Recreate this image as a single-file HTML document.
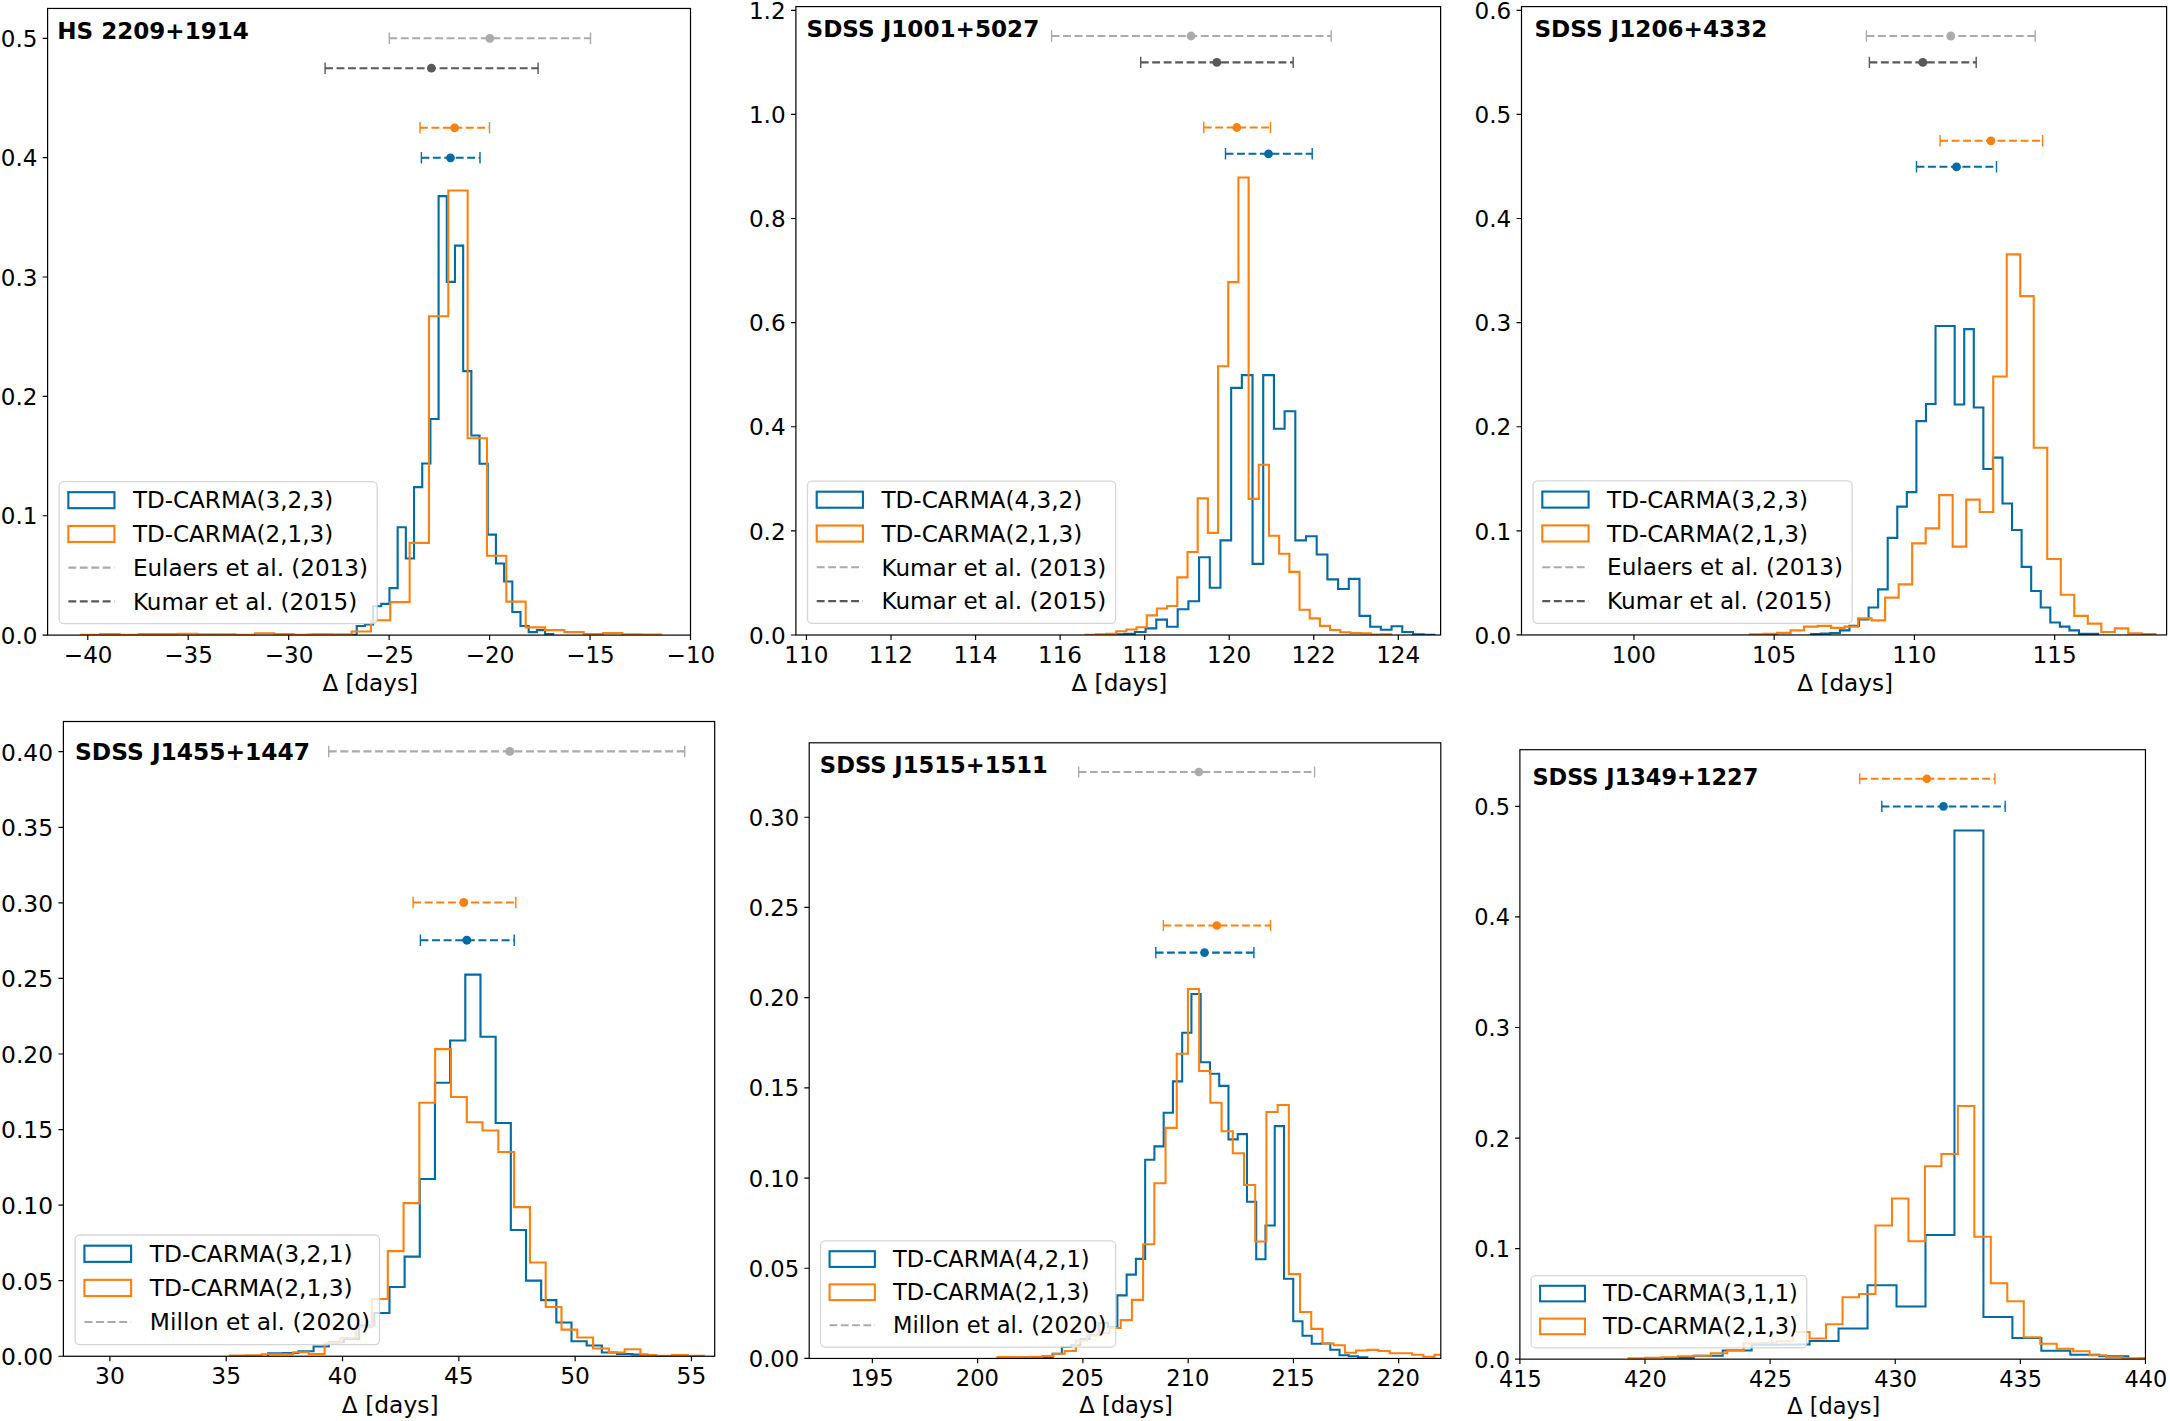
<!DOCTYPE html>
<html lang="en"><head><meta charset="utf-8"><title>TD-CARMA time delay posteriors</title>
<style>html,body{margin:0;padding:0;background:#fff}body{width:2170px;height:1421px;overflow:hidden}svg{display:block}</style></head>
<body>
<svg width="2170" height="1421" viewBox="0 0 2170 1421" font-family="'DejaVu Sans','Liberation Sans',sans-serif" fill="#000">
<rect width="2170" height="1421" fill="#fff"/>
<g font-size="23.05">
<clipPath id="c0"><rect x="47.6" y="8.45" width="642.9" height="626.65"/></clipPath>
<g clip-path="url(#c0)" fill="none" stroke-width="2.1" stroke-linejoin="miter">
<path d="M307.56 635.1 L307.56 634.8 L315.75 634.8 L315.75 634.8 L323.94 634.8 L323.94 634.8 L332.13 634.8 L332.13 634.8 L340.32 634.8 L340.32 634.8 L348.51 634.8 L348.51 634.8 L356.7 634.8 L356.7 626.05 L364.89 626.05 L364.89 624.45 L373.08 624.45 L373.08 606.25 L381.27 606.25 L381.27 603.85 L389.46 603.85 L389.46 588.15 L397.65 588.15 L397.65 527.25 L405.84 527.25 L405.84 558.55 L414.03 558.55 L414.03 487.15 L422.22 487.15 L422.22 463.45 L430.41 463.45 L430.41 419 L438.6 419 L438.6 196.1 L446.79 196.1 L446.79 281.9 L454.98 281.9 L454.98 245.6 L463.17 245.6 L463.17 371.1 L471.36 371.1 L471.36 435.45 L479.55 435.45 L479.55 463.8 L487.74 463.8 L487.74 534.65 L495.93 534.65 L495.93 563.45 L504.12 563.45 L504.12 581.55 L512.31 581.55 L512.31 612.05 L520.5 612.05 L520.5 626.05 L528.69 626.05 L528.69 632.15 L536.88 632.15 L536.88 630.15 L545.07 630.15 L545.07 633.95 L553.26 633.95 L553.26 635.1" stroke="#006BA4"/>
<path d="M80.84 635.1 L80.84 634.7 L100.18 634.7 L100.18 634 L119.52 634 L119.52 634.7 L138.86 634.7 L138.86 634 L158.2 634 L158.2 634 L177.54 634 L177.54 633.8 L196.88 633.8 L196.88 634.3 L216.22 634.3 L216.22 634.3 L235.56 634.3 L235.56 634.7 L254.9 634.7 L254.9 633.4 L274.24 633.4 L274.24 634 L293.58 634 L293.58 634.7 L312.92 634.7 L312.92 634.2 L332.26 634.2 L332.26 634.6 L351.6 634.6 L351.6 631.45 L370.94 631.45 L370.94 620.25 L390.28 620.25 L390.28 602.15 L409.62 602.15 L409.62 542.85 L428.96 542.85 L428.96 316.3 L448.3 316.3 L448.3 190.5 L467.64 190.5 L467.64 438.25 L486.98 438.25 L486.98 555.75 L506.32 555.75 L506.32 601.65 L525.66 601.65 L525.66 627.35 L545 627.35 L545 630.15 L564.34 630.15 L564.34 632.15 L583.68 632.15 L583.68 633.95 L603.02 633.95 L603.02 633.15 L622.36 633.15 L622.36 634.25 L641.7 634.25 L641.7 634.55 L661.04 634.55 L661.04 635.1" stroke="#FF800E"/>
</g>
<g stroke="#ABABAB" fill="#ABABAB">
<line x1="389.3" y1="38.3" x2="590.5" y2="38.3" stroke-width="2.1" stroke-dasharray="7.9 3.55"/>
<path d="M389.3 32.6v11.4M590.5 32.6v11.4" stroke-width="1.4" fill="none"/>
<circle cx="489.8" cy="38.3" r="4.4" stroke="none"/>
</g>
<g stroke="#595959" fill="#595959">
<line x1="325.1" y1="68.2" x2="538.1" y2="68.2" stroke-width="2.1" stroke-dasharray="7.9 3.55"/>
<path d="M325.1 62.5v11.4M538.1 62.5v11.4" stroke-width="1.4" fill="none"/>
<circle cx="431.4" cy="68.2" r="4.4" stroke="none"/>
</g>
<g stroke="#FF800E" fill="#FF800E">
<line x1="420" y1="127.8" x2="489.5" y2="127.8" stroke-width="2.1" stroke-dasharray="7.9 3.55"/>
<path d="M420 122.1v11.4M489.5 122.1v11.4" stroke-width="1.4" fill="none"/>
<circle cx="454.6" cy="127.8" r="4.4" stroke="none"/>
</g>
<g stroke="#006BA4" fill="#006BA4">
<line x1="421.4" y1="157.8" x2="480" y2="157.8" stroke-width="2.1" stroke-dasharray="7.9 3.55"/>
<path d="M421.4 152.1v11.4M480 152.1v11.4" stroke-width="1.4" fill="none"/>
<circle cx="450.5" cy="157.8" r="4.4" stroke="none"/>
</g>
<path d="M87.78 635.1v4.95M188.23 635.1v4.95M288.69 635.1v4.95M389.14 635.1v4.95M489.59 635.1v4.95M590.05 635.1v4.95M690.5 635.1v4.95M47.6 635.1h-4.95M47.6 515.74h-4.95M47.6 396.38h-4.95M47.6 277.02h-4.95M47.6 157.66h-4.95M47.6 38.3h-4.95" stroke="#000" stroke-width="1.2" fill="none"/>
<rect x="47.6" y="8.45" width="642.9" height="626.65" fill="none" stroke="#000" stroke-width="1.2"/>
<text x="88.18" y="662.55" text-anchor="middle">−40</text>
<text x="188.63" y="662.55" text-anchor="middle">−35</text>
<text x="289.09" y="662.55" text-anchor="middle">−30</text>
<text x="389.54" y="662.55" text-anchor="middle">−25</text>
<text x="489.99" y="662.55" text-anchor="middle">−20</text>
<text x="590.45" y="662.55" text-anchor="middle">−15</text>
<text x="690.9" y="662.55" text-anchor="middle">−10</text>
<text x="37.4" y="643.8" text-anchor="end">0.0</text>
<text x="37.4" y="524.44" text-anchor="end">0.1</text>
<text x="37.4" y="405.08" text-anchor="end">0.2</text>
<text x="37.4" y="285.72" text-anchor="end">0.3</text>
<text x="37.4" y="166.36" text-anchor="end">0.4</text>
<text x="37.4" y="47" text-anchor="end">0.5</text>
<text x="370.15" y="691.1" text-anchor="middle">Δ [days]</text>
<text x="57.3" y="39" font-weight="bold">HS 2209+1914</text>
<rect x="59.12" y="481.65" width="318.05" height="141.93" rx="4.6" ry="4.6" fill="#fff" fill-opacity="0.8" stroke="#ccc" stroke-opacity="0.8" stroke-width="1.3"/>
<rect x="68.34" y="492.19" width="46.1" height="16" fill="none" stroke="#006BA4" stroke-width="2.1"/>
<text x="132.88" y="508.3">TD-CARMA(3,2,3)</text>
<rect x="68.34" y="525.95" width="46.1" height="16" fill="none" stroke="#FF800E" stroke-width="2.1"/>
<text x="132.88" y="542.05">TD-CARMA(2,1,3)</text>
<line x1="68.34" y1="567.6" x2="114.44" y2="567.6" stroke="#ABABAB" stroke-width="2.1" stroke-dasharray="7.9 3.55"/>
<text x="132.88" y="575.8">Eulaers et al. (2013)</text>
<line x1="68.34" y1="601.35" x2="114.44" y2="601.35" stroke="#595959" stroke-width="2.1" stroke-dasharray="7.9 3.55"/>
<text x="132.88" y="609.55">Kumar et al. (2015)</text>
</g>
<g font-size="23.11">
<clipPath id="c1"><rect x="795.9" y="6.6" width="644.7" height="628.4"/></clipPath>
<g clip-path="url(#c1)" fill="none" stroke-width="2.11" stroke-linejoin="miter">
<path d="M1113.52 635 L1113.52 634.2 L1124.21 634.2 L1124.21 633.9 L1134.91 633.9 L1134.91 632 L1145.6 632 L1145.6 628.4 L1156.29 628.4 L1156.29 619.6 L1166.99 619.6 L1166.99 626.7 L1177.68 626.7 L1177.68 609.3 L1188.38 609.3 L1188.38 601.3 L1199.07 601.3 L1199.07 557.3 L1209.76 557.3 L1209.76 587.7 L1220.46 587.7 L1220.46 540.4 L1231.15 540.4 L1231.15 387.9 L1241.85 387.9 L1241.85 375.1 L1252.54 375.1 L1252.54 563.9 L1263.23 563.9 L1263.23 375.1 L1273.93 375.1 L1273.93 428.8 L1284.62 428.8 L1284.62 411.3 L1295.32 411.3 L1295.32 540.4 L1306.01 540.4 L1306.01 536.2 L1316.7 536.2 L1316.7 554.5 L1327.4 554.5 L1327.4 579.4 L1338.09 579.4 L1338.09 589 L1348.79 589 L1348.79 578.9 L1359.48 578.9 L1359.48 615.9 L1370.17 615.9 L1370.17 626.7 L1380.87 626.7 L1380.87 629.7 L1391.56 629.7 L1391.56 626.2 L1402.26 626.2 L1402.26 632 L1412.95 632 L1412.95 634.2 L1423.64 634.2 L1423.64 634.7 L1434.34 634.7 L1434.34 635" stroke="#006BA4"/>
<path d="M1085.67 635 L1085.67 634.7 L1095.85 634.7 L1095.85 634.4 L1106.03 634.4 L1106.03 633.9 L1116.22 633.9 L1116.22 631.2 L1126.4 631.2 L1126.4 629.5 L1136.59 629.5 L1136.59 627.2 L1146.77 627.2 L1146.77 615.4 L1156.95 615.4 L1156.95 608.5 L1167.14 608.5 L1167.14 606 L1177.32 606 L1177.32 577.4 L1187.51 577.4 L1187.51 552 L1197.69 552 L1197.69 498.4 L1207.87 498.4 L1207.87 532.9 L1218.06 532.9 L1218.06 366.3 L1228.24 366.3 L1228.24 282.1 L1238.43 282.1 L1238.43 177.5 L1248.61 177.5 L1248.61 498.9 L1258.79 498.9 L1258.79 464.8 L1268.98 464.8 L1268.98 535.7 L1279.16 535.7 L1279.16 553.7 L1289.35 553.7 L1289.35 571.9 L1299.53 571.9 L1299.53 609.8 L1309.71 609.8 L1309.71 618.4 L1319.9 618.4 L1319.9 625.9 L1330.08 625.9 L1330.08 630 L1340.27 630 L1340.27 632.2 L1350.45 632.2 L1350.45 633 L1360.63 633 L1360.63 633.4 L1370.82 633.4 L1370.82 634.5 L1381 634.5 L1381 634.2 L1391.19 634.2 L1391.19 635" stroke="#FF800E"/>
</g>
<g stroke="#ABABAB" fill="#ABABAB">
<line x1="1051.6" y1="36" x2="1331.2" y2="36" stroke-width="2.11" stroke-dasharray="7.92 3.56"/>
<path d="M1051.6 30.28v11.43M1331.2 30.28v11.43" stroke-width="1.4" fill="none"/>
<circle cx="1191.1" cy="36" r="4.41" stroke="none"/>
</g>
<g stroke="#595959" fill="#595959">
<line x1="1140.7" y1="62.4" x2="1293.2" y2="62.4" stroke-width="2.11" stroke-dasharray="7.92 3.56"/>
<path d="M1140.7 56.68v11.43M1293.2 56.68v11.43" stroke-width="1.4" fill="none"/>
<circle cx="1216.8" cy="62.4" r="4.41" stroke="none"/>
</g>
<g stroke="#FF800E" fill="#FF800E">
<line x1="1203.8" y1="127.5" x2="1270.5" y2="127.5" stroke-width="2.11" stroke-dasharray="7.92 3.56"/>
<path d="M1203.8 121.78v11.43M1270.5 121.78v11.43" stroke-width="1.4" fill="none"/>
<circle cx="1236.8" cy="127.5" r="4.41" stroke="none"/>
</g>
<g stroke="#006BA4" fill="#006BA4">
<line x1="1225.5" y1="153.8" x2="1312.2" y2="153.8" stroke-width="2.11" stroke-dasharray="7.92 3.56"/>
<path d="M1225.5 148.08v11.43M1312.2 148.08v11.43" stroke-width="1.4" fill="none"/>
<circle cx="1268.5" cy="153.8" r="4.41" stroke="none"/>
</g>
<path d="M806.47 635v4.96M891.02 635v4.96M975.57 635v4.96M1060.12 635v4.96M1144.67 635v4.96M1229.22 635v4.96M1313.77 635v4.96M1398.32 635v4.96M795.9 635h-4.96M795.9 530.88h-4.96M795.9 426.76h-4.96M795.9 322.64h-4.96M795.9 218.52h-4.96M795.9 114.4h-4.96M795.9 10.28h-4.96" stroke="#000" stroke-width="1.2" fill="none"/>
<rect x="795.9" y="6.6" width="644.7" height="628.4" fill="none" stroke="#000" stroke-width="1.2"/>
<text x="806.37" y="662.53" text-anchor="middle">110</text>
<text x="890.92" y="662.53" text-anchor="middle">112</text>
<text x="975.47" y="662.53" text-anchor="middle">114</text>
<text x="1060.02" y="662.53" text-anchor="middle">116</text>
<text x="1144.57" y="662.53" text-anchor="middle">118</text>
<text x="1229.12" y="662.53" text-anchor="middle">120</text>
<text x="1313.67" y="662.53" text-anchor="middle">122</text>
<text x="1398.22" y="662.53" text-anchor="middle">124</text>
<text x="785.67" y="643.72" text-anchor="end">0.0</text>
<text x="785.67" y="539.6" text-anchor="end">0.2</text>
<text x="785.67" y="435.48" text-anchor="end">0.4</text>
<text x="785.67" y="331.36" text-anchor="end">0.6</text>
<text x="785.67" y="227.24" text-anchor="end">0.8</text>
<text x="785.67" y="123.12" text-anchor="end">1.0</text>
<text x="785.67" y="19" text-anchor="end">1.2</text>
<text x="1119.35" y="691.16" text-anchor="middle">Δ [days]</text>
<text x="806.55" y="36.8" font-weight="bold">SDSS J1001+5027</text>
<rect x="807.46" y="481.12" width="308.17" height="142.33" rx="4.61" ry="4.61" fill="#fff" fill-opacity="0.8" stroke="#ccc" stroke-opacity="0.8" stroke-width="1.3"/>
<rect x="816.7" y="491.69" width="46.23" height="16.04" fill="none" stroke="#006BA4" stroke-width="2.11"/>
<text x="881.42" y="507.84">TD-CARMA(4,3,2)</text>
<rect x="816.7" y="525.54" width="46.23" height="16.04" fill="none" stroke="#FF800E" stroke-width="2.11"/>
<text x="881.42" y="541.68">TD-CARMA(2,1,3)</text>
<line x1="816.7" y1="567.31" x2="862.93" y2="567.31" stroke="#ABABAB" stroke-width="2.11" stroke-dasharray="7.92 3.56"/>
<text x="881.42" y="575.53">Kumar et al. (2013)</text>
<line x1="816.7" y1="601.15" x2="862.93" y2="601.15" stroke="#595959" stroke-width="2.11" stroke-dasharray="7.92 3.56"/>
<text x="881.42" y="609.37">Kumar et al. (2015)</text>
</g>
<g font-size="23.13">
<clipPath id="c2"><rect x="1521.5" y="6.6" width="645.1" height="628.35"/></clipPath>
<g clip-path="url(#c2)" fill="none" stroke-width="2.11" stroke-linejoin="miter">
<path d="M1811.19 634.95 L1811.19 634.15 L1820.75 634.15 L1820.75 633.65 L1830.32 633.65 L1830.32 632.95 L1839.88 632.95 L1839.88 630.35 L1849.45 630.35 L1849.45 625.85 L1859.01 625.85 L1859.01 619.55 L1868.58 619.55 L1868.58 607.55 L1878.14 607.55 L1878.14 589.35 L1887.71 589.35 L1887.71 537.85 L1897.27 537.85 L1897.27 506.65 L1906.84 506.65 L1906.84 492.15 L1916.4 492.15 L1916.4 421.15 L1925.97 421.15 L1925.97 404.05 L1935.53 404.05 L1935.53 326 L1945.1 326 L1945.1 326 L1954.66 326 L1954.66 404.55 L1964.23 404.55 L1964.23 329.1 L1973.79 329.1 L1973.79 407.45 L1983.36 407.45 L1983.36 468.95 L1992.92 468.95 L1992.92 457.65 L2002.49 457.65 L2002.49 503.45 L2012.05 503.45 L2012.05 530.05 L2021.62 530.05 L2021.62 566.85 L2031.18 566.85 L2031.18 590.95 L2040.75 590.95 L2040.75 607.55 L2050.31 607.55 L2050.31 622.55 L2059.88 622.55 L2059.88 626.65 L2069.44 626.65 L2069.44 630.35 L2079.01 630.35 L2079.01 633.85 L2088.57 633.85 L2088.57 633.85 L2098.14 633.85 L2098.14 634.95" stroke="#006BA4"/>
<path d="M1750.04 634.95 L1750.04 634.35 L1763.55 634.35 L1763.55 633.85 L1777.06 633.85 L1777.06 632.85 L1790.57 632.85 L1790.57 630.35 L1804.08 630.35 L1804.08 626.65 L1817.59 626.65 L1817.59 625.85 L1831.1 625.85 L1831.1 627.85 L1844.61 627.85 L1844.61 626.65 L1858.12 626.65 L1858.12 618.35 L1871.63 618.35 L1871.63 620.35 L1885.14 620.35 L1885.14 597.65 L1898.65 597.65 L1898.65 584.35 L1912.16 584.35 L1912.16 543.35 L1925.67 543.35 L1925.67 528.35 L1939.18 528.35 L1939.18 495.15 L1952.69 495.15 L1952.69 546.65 L1966.2 546.65 L1966.2 499.65 L1979.71 499.65 L1979.71 512.05 L1993.22 512.05 L1993.22 376.5 L2006.73 376.5 L2006.73 254.4 L2020.24 254.4 L2020.24 296.1 L2033.75 296.1 L2033.75 447.75 L2047.26 447.75 L2047.26 558.95 L2060.77 558.95 L2060.77 594.75 L2074.28 594.75 L2074.28 615.85 L2087.79 615.85 L2087.79 623.65 L2101.3 623.65 L2101.3 631.95 L2114.81 631.95 L2114.81 628.35 L2128.32 628.35 L2128.32 633.35 L2141.83 633.35 L2141.83 634.15 L2155.34 634.15 L2155.34 634.95" stroke="#FF800E"/>
</g>
<g stroke="#ABABAB" fill="#ABABAB">
<line x1="1866.4" y1="36" x2="2035.2" y2="36" stroke-width="2.11" stroke-dasharray="7.93 3.56"/>
<path d="M1866.4 30.28v11.44M2035.2 30.28v11.44" stroke-width="1.4" fill="none"/>
<circle cx="1950.8" cy="36" r="4.42" stroke="none"/>
</g>
<g stroke="#595959" fill="#595959">
<line x1="1869.4" y1="62.4" x2="1976.2" y2="62.4" stroke-width="2.11" stroke-dasharray="7.93 3.56"/>
<path d="M1869.4 56.68v11.44M1976.2 56.68v11.44" stroke-width="1.4" fill="none"/>
<circle cx="1922.8" cy="62.4" r="4.42" stroke="none"/>
</g>
<g stroke="#FF800E" fill="#FF800E">
<line x1="1940.1" y1="140.8" x2="2042.6" y2="140.8" stroke-width="2.11" stroke-dasharray="7.93 3.56"/>
<path d="M1940.1 135.08v11.44M2042.6 135.08v11.44" stroke-width="1.4" fill="none"/>
<circle cx="1990.9" cy="140.8" r="4.42" stroke="none"/>
</g>
<g stroke="#006BA4" fill="#006BA4">
<line x1="1916.5" y1="166.8" x2="1996.5" y2="166.8" stroke-width="2.11" stroke-dasharray="7.93 3.56"/>
<path d="M1916.5 161.08v11.44M1996.5 161.08v11.44" stroke-width="1.4" fill="none"/>
<circle cx="1956.5" cy="166.8" r="4.42" stroke="none"/>
</g>
<path d="M1633.94 634.95v4.97M1774.18 634.95v4.97M1914.42 634.95v4.97M2054.66 634.95v4.97M1521.5 634.95h-4.97M1521.5 530.84h-4.97M1521.5 426.73h-4.97M1521.5 322.62h-4.97M1521.5 218.51h-4.97M1521.5 114.4h-4.97M1521.5 10.29h-4.97" stroke="#000" stroke-width="1.2" fill="none"/>
<rect x="1521.5" y="6.6" width="645.1" height="628.35" fill="none" stroke="#000" stroke-width="1.2"/>
<text x="1633.94" y="663.35" text-anchor="middle">100</text>
<text x="1774.18" y="663.35" text-anchor="middle">105</text>
<text x="1914.42" y="663.35" text-anchor="middle">110</text>
<text x="2054.66" y="663.35" text-anchor="middle">115</text>
<text x="1511.27" y="643.68" text-anchor="end">0.0</text>
<text x="1511.27" y="539.57" text-anchor="end">0.1</text>
<text x="1511.27" y="435.46" text-anchor="end">0.2</text>
<text x="1511.27" y="331.35" text-anchor="end">0.3</text>
<text x="1511.27" y="227.24" text-anchor="end">0.4</text>
<text x="1511.27" y="123.13" text-anchor="end">0.5</text>
<text x="1511.27" y="19.02" text-anchor="end">0.6</text>
<text x="1845.15" y="691.14" text-anchor="middle">Δ [days]</text>
<text x="1534.45" y="36.8" font-weight="bold">SDSS J1206+4332</text>
<rect x="1533.06" y="480.97" width="319.14" height="142.42" rx="4.62" ry="4.62" fill="#fff" fill-opacity="0.8" stroke="#ccc" stroke-opacity="0.8" stroke-width="1.3"/>
<rect x="1542.32" y="491.56" width="46.26" height="16.05" fill="none" stroke="#006BA4" stroke-width="2.11"/>
<text x="1607.08" y="507.71">TD-CARMA(3,2,3)</text>
<rect x="1542.32" y="525.42" width="46.26" height="16.05" fill="none" stroke="#FF800E" stroke-width="2.11"/>
<text x="1607.08" y="541.58">TD-CARMA(2,1,3)</text>
<line x1="1542.32" y1="567.21" x2="1588.57" y2="567.21" stroke="#ABABAB" stroke-width="2.11" stroke-dasharray="7.93 3.56"/>
<text x="1607.08" y="575.44">Eulaers et al. (2013)</text>
<line x1="1542.32" y1="601.08" x2="1588.57" y2="601.08" stroke="#595959" stroke-width="2.11" stroke-dasharray="7.93 3.56"/>
<text x="1607.08" y="609.31">Kumar et al. (2015)</text>
</g>
<g font-size="23.35">
<clipPath id="c3"><rect x="63.4" y="721.5" width="651.3" height="634.75"/></clipPath>
<g clip-path="url(#c3)" fill="none" stroke-width="2.13" stroke-linejoin="miter">
<path d="M268.08 1356.25 L268.08 1353.25 L283.25 1353.25 L283.25 1352.95 L298.42 1352.95 L298.42 1351.25 L313.59 1351.25 L313.59 1346.55 L328.77 1346.55 L328.77 1342.25 L343.94 1342.25 L343.94 1338.95 L359.11 1338.95 L359.11 1325.55 L374.28 1325.55 L374.28 1312.95 L389.45 1312.95 L389.45 1286.95 L404.62 1286.95 L404.62 1256.65 L419.79 1256.65 L419.79 1179.05 L434.96 1179.05 L434.96 1082.8 L450.13 1082.8 L450.13 1040.5 L465.3 1040.5 L465.3 974.6 L480.48 974.6 L480.48 1036.7 L495.65 1036.7 L495.65 1123 L510.82 1123 L510.82 1230.05 L525.99 1230.05 L525.99 1280.65 L541.16 1280.65 L541.16 1300.15 L556.33 1300.15 L556.33 1322.55 L571.5 1322.55 L571.5 1341.25 L586.67 1341.25 L586.67 1345.45 L601.84 1345.45 L601.84 1352.45 L617.01 1352.45 L617.01 1354.05 L632.19 1354.05 L632.19 1354.55 L647.36 1354.55 L647.36 1356.25" stroke="#006BA4"/>
<path d="M229.87 1356.25 L229.87 1355.55 L245.66 1355.55 L245.66 1355.25 L261.45 1355.25 L261.45 1354.25 L277.25 1354.25 L277.25 1354.25 L293.04 1354.25 L293.04 1352.25 L308.83 1352.25 L308.83 1353.95 L324.62 1353.95 L324.62 1343.25 L340.41 1343.25 L340.41 1337.95 L356.21 1337.95 L356.21 1327.15 L372 1327.15 L372 1298.95 L387.79 1298.95 L387.79 1251.15 L403.58 1251.15 L403.58 1203.15 L419.37 1203.15 L419.37 1102.8 L435.17 1102.8 L435.17 1049.1 L450.96 1049.1 L450.96 1097 L466.75 1097 L466.75 1122.2 L482.54 1122.2 L482.54 1130.45 L498.33 1130.45 L498.33 1152.05 L514.13 1152.05 L514.13 1207.15 L529.92 1207.15 L529.92 1262.45 L545.71 1262.45 L545.71 1306.95 L561.5 1306.95 L561.5 1329.65 L577.29 1329.65 L577.29 1337.45 L593.09 1337.45 L593.09 1348.45 L608.88 1348.45 L608.88 1352.45 L624.67 1352.45 L624.67 1349.25 L640.46 1349.25 L640.46 1355.05 L656.25 1355.05 L656.25 1355.85 L672.05 1355.85 L672.05 1355.05 L687.84 1355.05 L687.84 1355.75 L703.63 1355.75 L703.63 1356.25" stroke="#FF800E"/>
</g>
<g stroke="#ABABAB" fill="#ABABAB">
<line x1="328.7" y1="751.4" x2="684.7" y2="751.4" stroke-width="2.13" stroke-dasharray="8 3.6"/>
<path d="M328.7 745.63v11.55M684.7 745.63v11.55" stroke-width="1.42" fill="none"/>
<circle cx="509.8" cy="751.4" r="4.46" stroke="none"/>
</g>
<g stroke="#FF800E" fill="#FF800E">
<line x1="413.1" y1="902.5" x2="515.8" y2="902.5" stroke-width="2.13" stroke-dasharray="8 3.6"/>
<path d="M413.1 896.73v11.55M515.8 896.73v11.55" stroke-width="1.42" fill="none"/>
<circle cx="463.8" cy="902.5" r="4.46" stroke="none"/>
</g>
<g stroke="#006BA4" fill="#006BA4">
<line x1="420.4" y1="940.2" x2="514.2" y2="940.2" stroke-width="2.13" stroke-dasharray="8 3.6"/>
<path d="M420.4 934.43v11.55M514.2 934.43v11.55" stroke-width="1.42" fill="none"/>
<circle cx="466.8" cy="940.2" r="4.46" stroke="none"/>
</g>
<path d="M109.92 1356.25v5.01M226.22 1356.25v5.01M342.53 1356.25v5.01M458.83 1356.25v5.01M575.14 1356.25v5.01M691.44 1356.25v5.01M63.4 1356.25h-5.01M63.4 1280.68h-5.01M63.4 1205.12h-5.01M63.4 1129.56h-5.01M63.4 1053.99h-5.01M63.4 978.42h-5.01M63.4 902.86h-5.01M63.4 827.3h-5.01M63.4 751.73h-5.01" stroke="#000" stroke-width="1.22" fill="none"/>
<rect x="63.4" y="721.5" width="651.3" height="634.75" fill="none" stroke="#000" stroke-width="1.22"/>
<text x="109.92" y="1384.06" text-anchor="middle">30</text>
<text x="226.22" y="1384.06" text-anchor="middle">35</text>
<text x="342.53" y="1384.06" text-anchor="middle">40</text>
<text x="458.83" y="1384.06" text-anchor="middle">45</text>
<text x="575.14" y="1384.06" text-anchor="middle">50</text>
<text x="691.44" y="1384.06" text-anchor="middle">55</text>
<text x="53.07" y="1365.06" text-anchor="end">0.00</text>
<text x="53.07" y="1289.5" text-anchor="end">0.05</text>
<text x="53.07" y="1213.93" text-anchor="end">0.10</text>
<text x="53.07" y="1138.37" text-anchor="end">0.15</text>
<text x="53.07" y="1062.8" text-anchor="end">0.20</text>
<text x="53.07" y="987.24" text-anchor="end">0.25</text>
<text x="53.07" y="911.67" text-anchor="end">0.30</text>
<text x="53.07" y="836.11" text-anchor="end">0.35</text>
<text x="53.07" y="760.54" text-anchor="end">0.40</text>
<text x="390.15" y="1412.98" text-anchor="middle">Δ [days]</text>
<text x="75" y="759.95" font-weight="bold">SDSS J1455+1447</text>
<rect x="75.08" y="1234.98" width="304.42" height="109.59" rx="4.66" ry="4.66" fill="#fff" fill-opacity="0.8" stroke="#ccc" stroke-opacity="0.8" stroke-width="1.32"/>
<rect x="84.42" y="1245.67" width="46.7" height="16.21" fill="none" stroke="#006BA4" stroke-width="2.13"/>
<text x="149.8" y="1261.98">TD-CARMA(3,2,1)</text>
<rect x="84.42" y="1279.86" width="46.7" height="16.21" fill="none" stroke="#FF800E" stroke-width="2.13"/>
<text x="149.8" y="1296.17">TD-CARMA(2,1,3)</text>
<line x1="84.42" y1="1322.05" x2="131.12" y2="1322.05" stroke="#ABABAB" stroke-width="2.13" stroke-dasharray="8 3.6"/>
<text x="149.8" y="1330.36">Millon et al. (2020)</text>
</g>
<g font-size="22.64">
<clipPath id="c4"><rect x="809.2" y="742.8" width="631.6" height="615.65"/></clipPath>
<g clip-path="url(#c4)" fill="none" stroke-width="2.06" stroke-linejoin="miter">
<path d="M1015.56 1358.45 L1015.56 1357.3 L1024.82 1357.3 L1024.82 1357.3 L1034.08 1357.3 L1034.08 1357.3 L1043.33 1357.3 L1043.33 1357.3 L1052.59 1357.3 L1052.59 1353.7 L1061.84 1353.7 L1061.84 1347 L1071.1 1347 L1071.1 1345.3 L1080.36 1345.3 L1080.36 1339 L1089.61 1339 L1089.61 1335 L1098.87 1335 L1098.87 1323 L1108.12 1323 L1108.12 1327 L1117.38 1327 L1117.38 1295.4 L1126.64 1295.4 L1126.64 1274.6 L1135.89 1274.6 L1135.89 1258.9 L1145.15 1258.9 L1145.15 1159.7 L1154.4 1159.7 L1154.4 1146.4 L1163.66 1146.4 L1163.66 1112.8 L1172.92 1112.8 L1172.92 1081.4 L1182.17 1081.4 L1182.17 1032.8 L1191.43 1032.8 L1191.43 994 L1200.68 994 L1200.68 1062.3 L1209.94 1062.3 L1209.94 1073.8 L1219.2 1073.8 L1219.2 1085.9 L1228.45 1085.9 L1228.45 1139.4 L1237.71 1139.4 L1237.71 1134.1 L1246.96 1134.1 L1246.96 1201.8 L1256.22 1201.8 L1256.22 1259.2 L1265.48 1259.2 L1265.48 1225.5 L1274.73 1225.5 L1274.73 1126.1 L1283.99 1126.1 L1283.99 1278.7 L1293.24 1278.7 L1293.24 1321.2 L1302.5 1321.2 L1302.5 1335.8 L1311.76 1335.8 L1311.76 1343.8 L1321.01 1343.8 L1321.01 1343.5 L1330.27 1343.5 L1330.27 1349.7 L1339.52 1349.7 L1339.52 1355.2 L1348.78 1355.2 L1348.78 1356.3 L1358.04 1356.3 L1358.04 1357.2 L1367.29 1357.2 L1367.29 1358.45" stroke="#006BA4"/>
<path d="M997.4 1358.45 L997.4 1357 L1008.61 1357 L1008.61 1357 L1019.82 1357 L1019.82 1357.3 L1031.03 1357.3 L1031.03 1356.7 L1042.24 1356.7 L1042.24 1356 L1053.45 1356 L1053.45 1353.7 L1064.65 1353.7 L1064.65 1351 L1075.86 1351 L1075.86 1340.5 L1087.07 1340.5 L1087.07 1335.5 L1098.28 1335.5 L1098.28 1333 L1109.49 1333 L1109.49 1328 L1120.7 1328 L1120.7 1320.1 L1131.91 1320.1 L1131.91 1299.9 L1143.12 1299.9 L1143.12 1244.2 L1154.33 1244.2 L1154.33 1183.2 L1165.54 1183.2 L1165.54 1127.9 L1176.75 1127.9 L1176.75 1053.7 L1187.95 1053.7 L1187.95 989 L1199.16 989 L1199.16 1071 L1210.37 1071 L1210.37 1102.8 L1221.58 1102.8 L1221.58 1131.2 L1232.79 1131.2 L1232.79 1153.3 L1244 1153.3 L1244 1185 L1255.21 1185 L1255.21 1241.5 L1266.42 1241.5 L1266.42 1112 L1277.63 1112 L1277.63 1105 L1288.84 1105 L1288.84 1274.1 L1300.04 1274.1 L1300.04 1312 L1311.25 1312 L1311.25 1328.9 L1322.46 1328.9 L1322.46 1343.5 L1333.67 1343.5 L1333.67 1345.2 L1344.88 1345.2 L1344.88 1352.7 L1356.09 1352.7 L1356.09 1350.5 L1367.3 1350.5 L1367.3 1349.9 L1378.51 1349.9 L1378.51 1351 L1389.72 1351 L1389.72 1353.3 L1400.93 1353.3 L1400.93 1353.3 L1412.13 1353.3 L1412.13 1354.7 L1423.34 1354.7 L1423.34 1356.8 L1434.55 1356.8 L1434.55 1354.7 L1445.76 1354.7 L1445.76 1355.5 L1456.97 1355.5 L1456.97 1358.45" stroke="#FF800E"/>
</g>
<g stroke="#ABABAB" fill="#ABABAB">
<line x1="1078.7" y1="772" x2="1314.6" y2="772" stroke-width="2.06" stroke-dasharray="7.76 3.49"/>
<path d="M1078.7 766.4v11.2M1314.6 766.4v11.2" stroke-width="1.38" fill="none"/>
<circle cx="1198.8" cy="772" r="4.32" stroke="none"/>
</g>
<g stroke="#FF800E" fill="#FF800E">
<line x1="1163.4" y1="925.5" x2="1270.5" y2="925.5" stroke-width="2.06" stroke-dasharray="7.76 3.49"/>
<path d="M1163.4 919.9v11.2M1270.5 919.9v11.2" stroke-width="1.38" fill="none"/>
<circle cx="1216.8" cy="925.5" r="4.32" stroke="none"/>
</g>
<g stroke="#006BA4" fill="#006BA4">
<line x1="1155.8" y1="952.6" x2="1253.9" y2="952.6" stroke-width="2.06" stroke-dasharray="7.76 3.49"/>
<path d="M1155.8 947v11.2M1253.9 947v11.2" stroke-width="1.38" fill="none"/>
<circle cx="1204.5" cy="952.6" r="4.32" stroke="none"/>
</g>
<path d="M872.36 1358.45v4.86M977.63 1358.45v4.86M1082.89 1358.45v4.86M1188.16 1358.45v4.86M1293.43 1358.45v4.86M1398.69 1358.45v4.86M809.2 1358.45h-4.86M809.2 1268.25h-4.86M809.2 1178.05h-4.86M809.2 1087.85h-4.86M809.2 997.65h-4.86M809.2 907.45h-4.86M809.2 817.25h-4.86" stroke="#000" stroke-width="1.18" fill="none"/>
<rect x="809.2" y="742.8" width="631.6" height="615.65" fill="none" stroke="#000" stroke-width="1.18"/>
<text x="872.06" y="1386.27" text-anchor="middle">195</text>
<text x="977.33" y="1386.27" text-anchor="middle">200</text>
<text x="1082.59" y="1386.27" text-anchor="middle">205</text>
<text x="1187.86" y="1386.27" text-anchor="middle">210</text>
<text x="1293.13" y="1386.27" text-anchor="middle">215</text>
<text x="1398.39" y="1386.27" text-anchor="middle">220</text>
<text x="799.18" y="1367" text-anchor="end">0.00</text>
<text x="799.18" y="1276.8" text-anchor="end">0.05</text>
<text x="799.18" y="1186.6" text-anchor="end">0.10</text>
<text x="799.18" y="1096.4" text-anchor="end">0.15</text>
<text x="799.18" y="1006.2" text-anchor="end">0.20</text>
<text x="799.18" y="916" text-anchor="end">0.25</text>
<text x="799.18" y="825.8" text-anchor="end">0.30</text>
<text x="1126.1" y="1413.47" text-anchor="middle">Δ [days]</text>
<text x="819.85" y="773" font-weight="bold">SDSS J1515+1511</text>
<rect x="820.52" y="1240.85" width="295.21" height="106.28" rx="4.52" ry="4.52" fill="#fff" fill-opacity="0.8" stroke="#ccc" stroke-opacity="0.8" stroke-width="1.28"/>
<rect x="829.58" y="1251.21" width="45.29" height="15.72" fill="none" stroke="#006BA4" stroke-width="2.06"/>
<text x="892.99" y="1267.03">TD-CARMA(4,2,1)</text>
<rect x="829.58" y="1284.37" width="45.29" height="15.72" fill="none" stroke="#FF800E" stroke-width="2.06"/>
<text x="892.99" y="1300.19">TD-CARMA(2,1,3)</text>
<line x1="829.58" y1="1325.29" x2="874.87" y2="1325.29" stroke="#ABABAB" stroke-width="2.06" stroke-dasharray="7.76 3.49"/>
<text x="892.99" y="1333.34">Millon et al. (2020)</text>
</g>
<g font-size="22.43">
<clipPath id="c5"><rect x="1519.9" y="749.7" width="625.55" height="609.45"/></clipPath>
<g clip-path="url(#c5)" fill="none" stroke-width="2.04" stroke-linejoin="miter">
<path d="M1664.75 1359.15 L1664.75 1357.95 L1693.72 1357.95 L1693.72 1355.75 L1722.69 1355.75 L1722.69 1350.45 L1751.66 1350.45 L1751.66 1344.85 L1780.63 1344.85 L1780.63 1344.55 L1809.6 1344.55 L1809.6 1340.95 L1838.57 1340.95 L1838.57 1328.45 L1867.54 1328.45 L1867.54 1285.25 L1896.51 1285.25 L1896.51 1306.45 L1925.48 1306.45 L1925.48 1235.05 L1954.45 1235.05 L1954.45 830.4 L1983.42 830.4 L1983.42 1317.05 L2012.39 1317.05 L2012.39 1338.05 L2041.36 1338.05 L2041.36 1350.85 L2070.33 1350.85 L2070.33 1354.65 L2099.3 1354.65 L2099.3 1356.15 L2128.27 1356.15 L2128.27 1359.15" stroke="#006BA4"/>
<path d="M1628.4 1359.15 L1628.4 1358.35 L1644.87 1358.35 L1644.87 1357.65 L1661.34 1357.65 L1661.34 1357.35 L1677.82 1357.35 L1677.82 1356.35 L1694.29 1356.35 L1694.29 1355.75 L1710.76 1355.75 L1710.76 1353.35 L1727.23 1353.35 L1727.23 1350.05 L1743.71 1350.05 L1743.71 1343.35 L1760.18 1343.35 L1760.18 1343.05 L1776.65 1343.05 L1776.65 1341.35 L1793.13 1341.35 L1793.13 1332.05 L1809.6 1332.05 L1809.6 1338.45 L1826.07 1338.45 L1826.07 1324.25 L1842.55 1324.25 L1842.55 1297.35 L1859.02 1297.35 L1859.02 1293.95 L1875.49 1293.95 L1875.49 1225.45 L1891.96 1225.45 L1891.96 1198.55 L1908.44 1198.55 L1908.44 1241.25 L1924.91 1241.25 L1924.91 1166.25 L1941.38 1166.25 L1941.38 1154.05 L1957.86 1154.05 L1957.86 1106 L1974.33 1106 L1974.33 1236.65 L1990.8 1236.65 L1990.8 1283.25 L2007.28 1283.25 L2007.28 1301.35 L2023.75 1301.35 L2023.75 1337.25 L2040.22 1337.25 L2040.22 1343.75 L2056.69 1343.75 L2056.69 1348.75 L2073.17 1348.75 L2073.17 1351.35 L2089.64 1351.35 L2089.64 1355.35 L2106.11 1355.35 L2106.11 1357.15 L2122.59 1357.15 L2122.59 1358.35 L2139.06 1358.35 L2139.06 1358.05 L2155.53 1358.05 L2155.53 1358.55 L2172.01 1358.55 L2172.01 1359.15" stroke="#FF800E"/>
</g>
<g stroke="#FF800E" fill="#FF800E">
<line x1="1859.7" y1="778.7" x2="1994.9" y2="778.7" stroke-width="2.04" stroke-dasharray="7.69 3.45"/>
<path d="M1859.7 773.15v11.09M1994.9 773.15v11.09" stroke-width="1.36" fill="none"/>
<circle cx="1926.8" cy="778.7" r="4.28" stroke="none"/>
</g>
<g stroke="#006BA4" fill="#006BA4">
<line x1="1881.8" y1="806.4" x2="2005.2" y2="806.4" stroke-width="2.04" stroke-dasharray="7.69 3.45"/>
<path d="M1881.8 800.85v11.09M2005.2 800.85v11.09" stroke-width="1.36" fill="none"/>
<circle cx="1943.5" cy="806.4" r="4.28" stroke="none"/>
</g>
<path d="M1519.9 1359.15v4.82M1645.01 1359.15v4.82M1770.12 1359.15v4.82M1895.23 1359.15v4.82M2020.34 1359.15v4.82M2145.45 1359.15v4.82M1519.9 1359.15h-4.82M1519.9 1248.6h-4.82M1519.9 1138.05h-4.82M1519.9 1027.5h-4.82M1519.9 916.95h-4.82M1519.9 806.4h-4.82" stroke="#000" stroke-width="1.17" fill="none"/>
<rect x="1519.9" y="749.7" width="625.55" height="609.45" fill="none" stroke="#000" stroke-width="1.17"/>
<text x="1520.3" y="1386.5" text-anchor="middle">415</text>
<text x="1645.41" y="1386.5" text-anchor="middle">420</text>
<text x="1770.52" y="1386.5" text-anchor="middle">425</text>
<text x="1895.63" y="1386.5" text-anchor="middle">430</text>
<text x="2020.74" y="1386.5" text-anchor="middle">435</text>
<text x="2145.85" y="1386.5" text-anchor="middle">440</text>
<text x="1509.98" y="1367.62" text-anchor="end">0.0</text>
<text x="1509.98" y="1257.07" text-anchor="end">0.1</text>
<text x="1509.98" y="1146.52" text-anchor="end">0.2</text>
<text x="1509.98" y="1035.97" text-anchor="end">0.3</text>
<text x="1509.98" y="925.42" text-anchor="end">0.4</text>
<text x="1509.98" y="814.87" text-anchor="end">0.5</text>
<text x="1833.77" y="1413.64" text-anchor="middle">Δ [days]</text>
<text x="1532.45" y="784.6" font-weight="bold">SDSS J1349+1227</text>
<rect x="1531.11" y="1275.51" width="275.65" height="72.42" rx="4.48" ry="4.48" fill="#fff" fill-opacity="0.8" stroke="#ccc" stroke-opacity="0.8" stroke-width="1.26"/>
<rect x="1540.09" y="1285.78" width="44.86" height="15.57" fill="none" stroke="#006BA4" stroke-width="2.04"/>
<text x="1602.88" y="1301.45">TD-CARMA(3,1,1)</text>
<rect x="1540.09" y="1318.62" width="44.86" height="15.57" fill="none" stroke="#FF800E" stroke-width="2.04"/>
<text x="1602.88" y="1334.28">TD-CARMA(2,1,3)</text>
</g>
</svg>
</body></html>
